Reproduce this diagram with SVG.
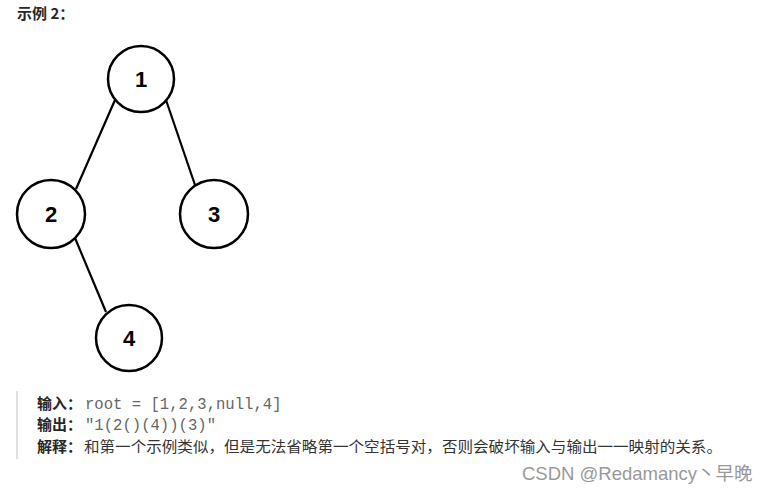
<svg xmlns="http://www.w3.org/2000/svg" width="769" height="494" viewBox="0 0 769 494">
<style>
.node circle{fill:#fff;stroke:#000;stroke-width:2.5}
.node text{font-family:"Liberation Sans",Arial,sans-serif;font-weight:bold;font-size:22px;text-anchor:middle;fill:#000}
.edges line{stroke:#000;stroke-width:2.2}
.cn{font-family:"Noto Sans CJK SC","Liberation Sans",sans-serif;font-size:15px;fill:#333}
.b{font-weight:bold;fill:#262626}
.code{font-family:"Liberation Mono","DejaVu Sans Mono",monospace;font-size:15.6px;fill:#666}
</style>
<rect width="769" height="494" fill="#fff"/>
<text x="17" y="19" class="cn b" font-size="15">示例 2：</text>
<g class="edges">
<line x1="115" y1="100" x2="76" y2="189"/>
<line x1="166" y1="100" x2="195" y2="185"/>
<line x1="75" y1="238" x2="106" y2="312"/>
</g>
<g id="n1" class="node"><circle cx="141" cy="79" r="33"/><text x="141" y="87">1</text></g>
<g id="n2" class="node"><circle cx="51" cy="214" r="34"/><text x="51" y="222">2</text></g>
<g id="n3" class="node"><circle cx="214" cy="214" r="34"/><text x="214" y="222">3</text></g>
<g id="n4" class="node"><circle cx="129" cy="338" r="33"/><text x="129" y="346">4</text></g>
<rect x="16" y="391" width="2" height="68" fill="#e0e0e0"/>
<text x="37" y="409" class="cn b">输入：</text>
<text x="85" y="409" class="code">root = [1,2,3,null,4]</text>
<text x="37" y="430" class="cn b">输出：</text>
<text x="85" y="430" class="code">"1(2()(4))(3)"</text>
<text x="37" y="452" class="cn b">解释：</text>
<text x="84" y="452" class="cn" font-size="16" textLength="638" lengthAdjust="spacingAndGlyphs">和第一个示例类似，但是无法省略第一个空括号对，否则会破坏输入与输出一一映射的关系。</text>
<text x="522" y="480" font-family="Liberation Sans,Arial,'Noto Sans CJK SC',sans-serif" font-size="18.5" fill="#999">CSDN @Redamancy丶早晚</text>
</svg>
